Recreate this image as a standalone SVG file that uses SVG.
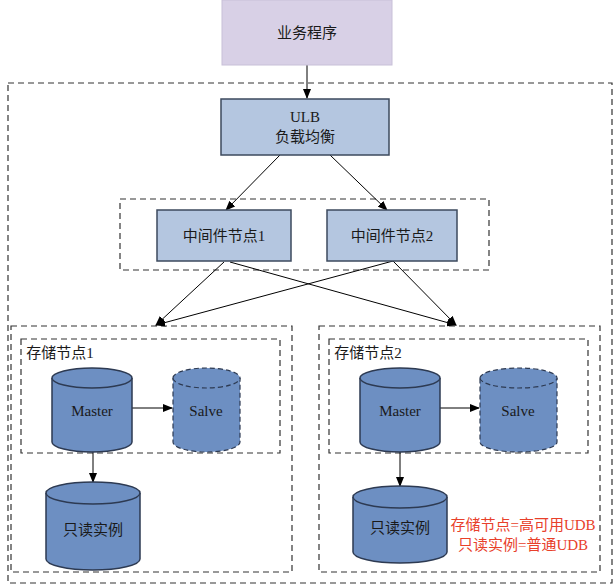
<svg xmlns="http://www.w3.org/2000/svg" width="616" height="584" viewBox="0 0 616 584">
<defs>
<marker id="ar" markerWidth="10" markerHeight="8" refX="9" refY="4" orient="auto" markerUnits="userSpaceOnUse"><path d="M0,0 L10,4 L0,8 z" fill="#000"/></marker>
</defs>
<style>
text{font-family:"Liberation Serif","Noto Sans CJK SC",serif;font-size:15px;fill:#1a1a1a;text-anchor:middle}
.dash{fill:none;stroke:#333;stroke-width:1.2;stroke-dasharray:6,4}
.box{fill:#b4c6e0;stroke:#3d4a5e;stroke-width:1.5}
.cyl{fill:#6d8fc2;stroke:#2d3a52;stroke-width:1.5}
.cyld{fill:#6d8fc2;stroke:#2d3a52;stroke-width:1.2;stroke-dasharray:5,3}
.ln{stroke:#000;stroke-width:1;fill:none;marker-end:url(#ar)}
.red{fill:#e8402a}
</style>
<rect width="616" height="584" fill="#fff"/>
<g id="groups">
<rect class="dash" x="8" y="83" width="604" height="500"/>
<rect class="dash" x="120" y="199" width="369" height="71"/>
<rect class="dash" x="11" y="326" width="281" height="246"/>
<rect class="dash" x="319" y="326" width="281" height="246"/>
<rect class="dash" x="21" y="339" width="259" height="114"/>
<rect class="dash" x="329" y="339" width="259" height="114"/>
</g>
<g id="connectors">
<path class="ln" d="M307,65 V98"/>
<path class="ln" d="M280,155 L226,210"/>
<path class="ln" d="M330,155 L387,210"/>
<path class="ln" d="M224,262 L156,325"/>
<path class="ln" d="M230,262 L456,325"/>
<path class="ln" d="M393,261 L156,325"/>
<path class="ln" d="M393,261 L456,325"/>
<path class="ln" d="M132,408 H172"/>
<path class="ln" d="M440,408 H479"/>
<path class="ln" d="M93,452 V482"/>
<path class="ln" d="M400,452 V486"/>
</g>
<g id="app"><rect x="222" y="0" width="170" height="65" fill="#d8d0e6" stroke="#c8c0d8"/><text x="307" y="38" font-size="17">业务程序</text></g>
<g id="ulb"><rect class="box" x="221" y="99" width="168" height="56"/><text x="305" y="122">ULB</text><text x="305" y="142">负载均衡</text></g>
<g id="mid1"><rect class="box" x="157" y="210" width="134" height="51"/><text x="224" y="241">中间件节点1</text></g>
<g id="mid2"><rect class="box" x="327" y="210" width="130" height="51"/><text x="392" y="241">中间件节点2</text></g>
<text x="60" y="358" style="text-anchor:middle">存储节点1</text>
<text x="368" y="358" style="text-anchor:middle">存储节点2</text>
<g id="master1"><path class="cyl" d="M52,378 A40,10 0 0 1 132,378 V442 A40,10 0 0 1 52,442 Z"/><path class="cyl" d="M52,378 A40,10 0 0 0 132,378" fill="none"/><text x="92" y="416" font-size="14">Master</text></g>
<g id="salve1"><path class="cyld" d="M173,378 A33.5,10 0 0 1 240,378 V442 A33.5,10 0 0 1 173,442 Z"/><path class="cyld" d="M173,378 A33.5,10 0 0 0 240,378" fill="none"/><text x="206" y="416" font-size="14">Salve</text></g>
<g id="master2"><path class="cyl" d="M360,378 A40,10 0 0 1 440,378 V442 A40,10 0 0 1 360,442 Z"/><path class="cyl" d="M360,378 A40,10 0 0 0 440,378" fill="none"/><text x="400" y="416" font-size="14">Master</text></g>
<g id="salve2"><path class="cyld" d="M480,378 A38.5,10 0 0 1 557,378 V442 A38.5,10 0 0 1 480,442 Z"/><path class="cyld" d="M480,378 A38.5,10 0 0 0 557,378" fill="none"/><text x="518" y="416" font-size="14">Salve</text></g>
<g id="ro1"><path class="cyl" d="M46,493 A47,11 0 0 1 140,493 V559 A47,11 0 0 1 46,559 Z"/><path class="cyl" d="M46,493 A47,11 0 0 0 140,493" fill="none"/><text x="93" y="535" font-size="16">只读实例</text></g>
<g id="ro2"><path class="cyl" d="M353,497 A47,11 0 0 1 447,497 V552 A47,11 0 0 1 353,552 Z"/><path class="cyl" d="M353,497 A47,11 0 0 0 447,497" fill="none"/><text x="400" y="533" font-size="16">只读实例</text></g>
<g id="note"><text class="red" x="523" y="530" font-size="14">存储节点=高可用UDB</text><text class="red" x="523" y="550" font-size="14">只读实例=普通UDB</text></g>
</svg>
